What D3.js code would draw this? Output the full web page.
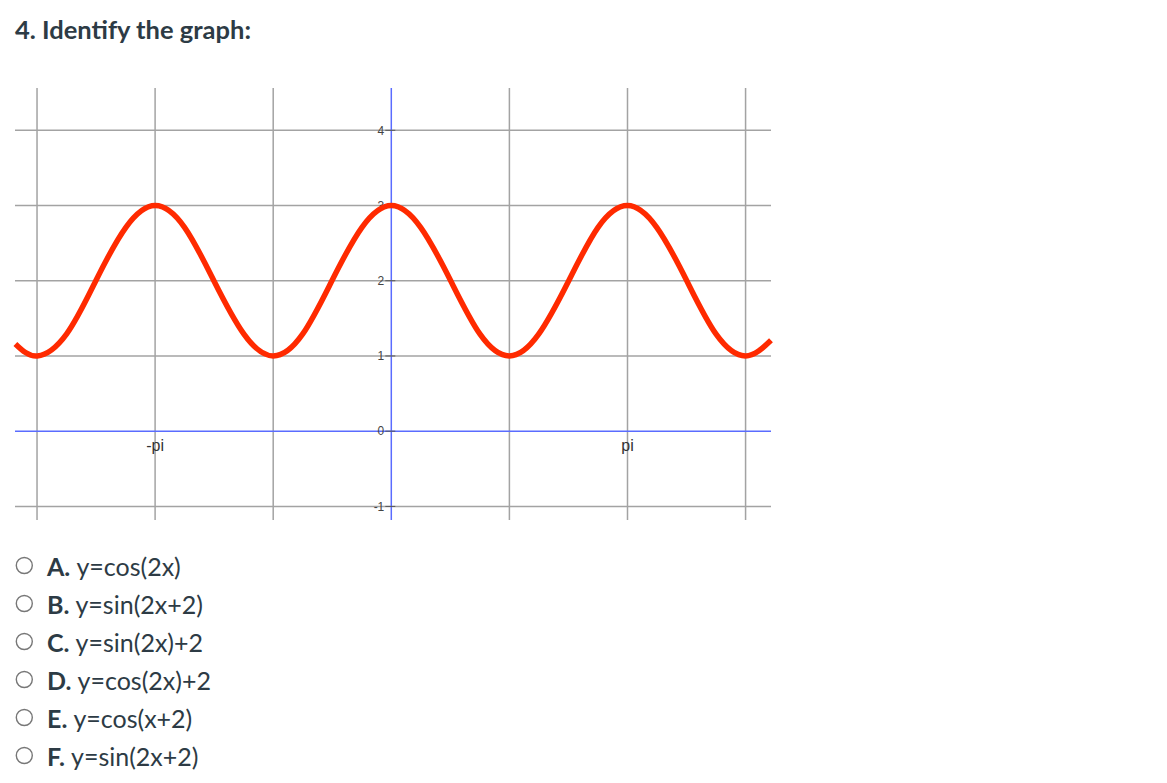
<!DOCTYPE html>
<html><head><meta charset="utf-8">
<script src="https://cdn.jsdelivr.net/npm/d3@7/dist/d3.min.js"></script>
<style>
html,body{margin:0;padding:0;background:#fff;}
svg{display:block;}
</style></head>
<body>
<svg id="chart" width="1167" height="783"></svg>
<script>
// ---- data ----
const titleText = "4. Identify the graph:";
const optionLetters = ["A.", "B.", "C.", "D.", "E.", "F."];
const optionTexts = ["y=cos(2x)", "y=sin(2x+2)", "y=sin(2x)+2", "y=cos(2x)+2", "y=cos(x+2)", "y=sin(2x+2)"];
const xGridValues = [-4.712, -3.1416, -1.5708, 0, 1.5708, 3.1416, 4.712];
const xTickValues = [-3.1416, 3.1416];
const xTickLabels = ["-pi", "pi"];
const yTickValues = [-1, 0, 1, 2, 3, 4];
const yTickLabels = ["-1", "0", "1", "2", "3", "4"];
const curveX = [-5.0, -4.71, -4.32, -3.93, -3.53, -3.14, -2.75, -2.36, -1.96, -1.57, -1.18, -0.79, -0.39, 0,
                0.39, 0.79, 1.18, 1.57, 1.96, 2.36, 2.75, 3.14, 3.53, 3.93, 4.32, 4.71, 5.05];
const curveY = [1.16, 1.0, 1.29, 2.0, 2.71, 3.0, 2.71, 2.0, 1.29, 1.0, 1.29, 2.0, 2.71, 3.0,
                2.71, 2.0, 1.29, 1.0, 1.29, 2.0, 2.71, 3.0, 2.71, 2.0, 1.29, 1.0, 1.21];

// ---- layout ----
const svg = d3.select("#chart");
const textColor = "#2d3b45";
const x = d3.scaleLinear().domain([-4.712389, 4.712389]).range([37.0, 745.6]);
const y = d3.scaleLinear().domain([-1, 4]).range([506.4, 130.3]);
const plotLeft = 15, plotRight = 771, plotTop = 88, plotBottom = 520;

// title
svg.append("text").attr("x", 15).attr("y", 38.5)
  .attr("font-family", "Lato").attr("font-weight", "bold").attr("font-size", 25.5)
  .attr("fill", textColor).text(titleText);

const g = svg.append("g");
// grid
g.selectAll(".vg").data(xGridValues.filter(d => d !== 0)).enter().append("line")
  .attr("x1", d => x(d)).attr("x2", d => x(d)).attr("y1", plotTop).attr("y2", plotBottom)
  .attr("stroke", "#a3a3a3").attr("stroke-width", 1.5);
g.selectAll(".hg").data(yTickValues.filter(d => d !== 0)).enter().append("line")
  .attr("x1", plotLeft).attr("x2", plotRight).attr("y1", d => y(d)).attr("y2", d => y(d))
  .attr("stroke", "#a3a3a3").attr("stroke-width", 1.5);
// axes
g.append("line").attr("x1", plotLeft).attr("x2", plotRight).attr("y1", y(0)).attr("y2", y(0))
  .attr("stroke", "#5a6cff").attr("stroke-width", 1.5);
g.append("line").attr("x1", x(0)).attr("x2", x(0)).attr("y1", plotTop).attr("y2", plotBottom)
  .attr("stroke", "#5a6cff").attr("stroke-width", 1.5);
// y ticks
g.selectAll(".yt").data(yTickValues).enter().append("line")
  .attr("x1", x(0) - 6).attr("x2", x(0) + 4).attr("y1", d => y(d)).attr("y2", d => y(d))
  .attr("stroke", "#555").attr("stroke-width", 1);
g.selectAll(".yl").data(yTickValues).enter().append("text")
  .attr("x", x(0) - 7).attr("y", d => y(d) + 4.3).attr("text-anchor", "end")
  .attr("font-family", "Liberation Sans, Arial").attr("font-size", 12).attr("fill", "#444")
  .text((d, i) => yTickLabels[i]);
// x labels
g.selectAll(".xl").data(xTickValues).enter().append("text")
  .attr("x", d => x(d)).attr("y", y(0) + 20).attr("text-anchor", "middle")
  .attr("font-family", "Liberation Sans, Arial").attr("font-size", 16).attr("fill", "#333")
  .text((d, i) => xTickLabels[i]);

// curve
const pts = curveX.map((d, i) => [d, curveY[i]]);
g.append("path").datum(pts)
  .attr("d", d3.line().x(d => x(d[0])).y(d => y(d[1])).curve(d3.curveNatural))
  .attr("fill", "none").attr("stroke", "#ff2a00").attr("stroke-width", 5.5)
  .attr("stroke-linejoin", "round");

// options
const opt = svg.append("g");
optionLetters.forEach((L, i) => {
  const base = 576 + i * 38;
  opt.append("circle").attr("cx", 24.3).attr("cy", base - 10.5).attr("r", 8)
    .attr("fill", "#fff").attr("stroke", "#777").attr("stroke-width", 1.4);
  const t = opt.append("text").attr("x", 47).attr("y", base)
    .attr("font-family", "Lato").attr("font-size", 25).attr("fill", textColor);
  t.append("tspan").attr("font-weight", "bold").text(L + " ");
  t.append("tspan").text(optionTexts[i]);
});
</script>
</body></html>
